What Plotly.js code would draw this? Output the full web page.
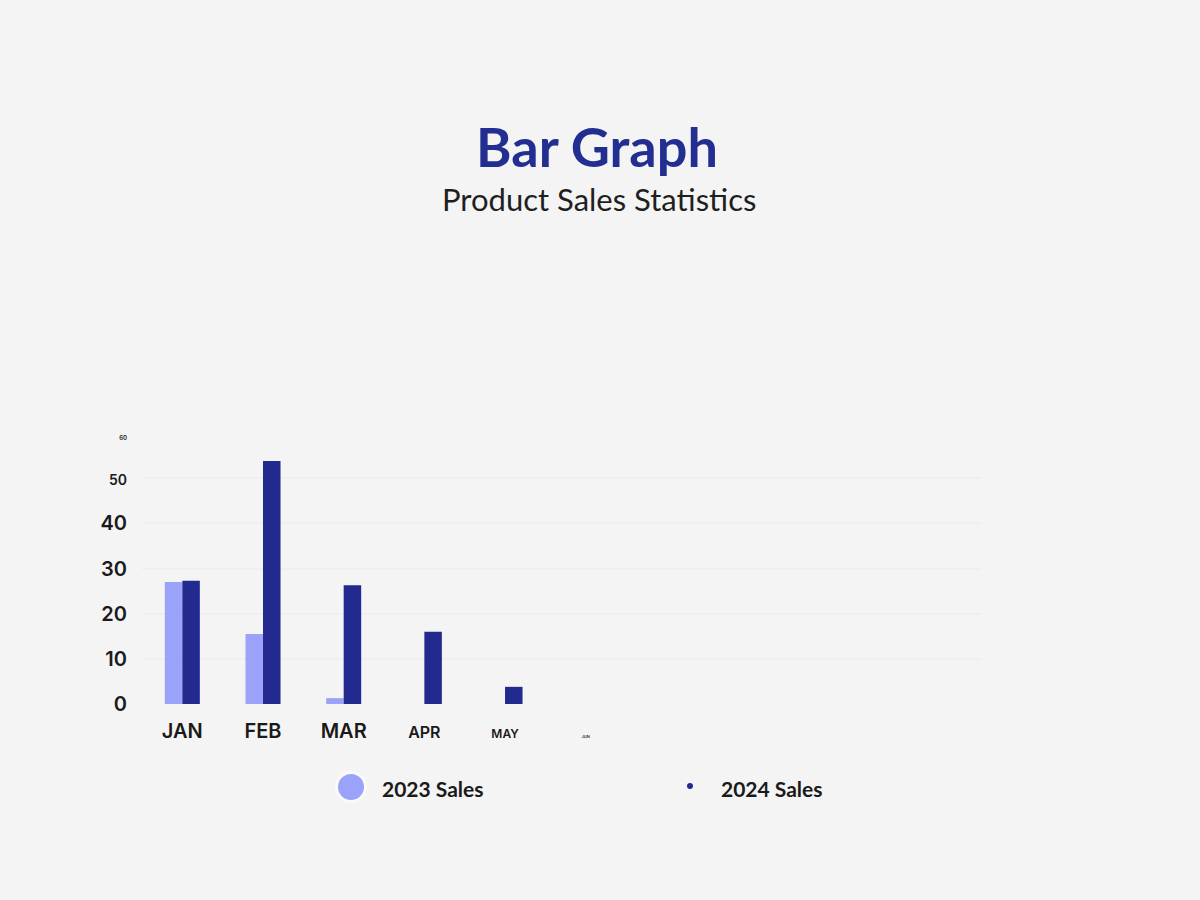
<!DOCTYPE html>
<html>
<head>
<meta charset="utf-8">
<script src="https://cdn.plot.ly/plotly-3.0.1.min.js"></script>
<style>
  html, body { margin: 0; padding: 0; background: #f4f4f4; }
  #chart { width: 1200px; height: 900px; }
</style>
</head>
<body>
<div id="chart"></div>
<script>
// ---- data ----
const months = ["JAN", "FEB", "MAR", "APR", "MAY", "JUN"];
const sales2023 = [27, 15.5, 1.3, 0, 0, 0];
const sales2024 = [27.3, 53.8, 26.3, 16, 3.8, 0];
const seriesNames = ["2023 Sales", "2024 Sales"];
const yTickValues = [0, 10, 20, 30, 40, 50, 60];
const yTickLabels = ["0", "10", "20", "30", "40", "50", "60"];
const titleText = "Bar Graph";
const subtitleText = "Product Sales Statistics";

// ---- styles (frame of an animation: label sizes vary) ----
const xLabelSizes = [20, 20, 20, 16, 12, 4];
const yLabelSizes = [20, 20, 20, 20, 20, 14, 6];
const lightColor = "#9aa2fa";
const darkColor = "#222a8f";

const sized = (labels, sizes) => labels.map((t, i) =>
  `<span style="font-size:${sizes[i]}px;fill:#1a1a1a">${t}</span>`);

const traces = [
  { type: "bar", name: seriesNames[0], x: months, y: sales2023,
    marker: { color: lightColor }, showlegend: false, hoverinfo: "x+y+name" },
  { type: "bar", name: seriesNames[1], x: months, y: sales2024,
    marker: { color: darkColor }, showlegend: false, hoverinfo: "x+y+name" }
];

const L = 142, R = 219, T = 433, B = 196;
const W = 1200 - L - R, H = 900 - T - B;
const px = v => (v - L) / W;
const py = v => (900 - B - v) / H;

const layout = {
  width: 1200, height: 900,
  paper_bgcolor: "#f4f4f4", plot_bgcolor: "#f4f4f4",
  margin: { l: L, r: R, t: T, b: B, pad: 0 },
  barmode: "group", bargap: 0.566, bargroupgap: 0,
  showlegend: false,
  font: { family: "Inter, 'Open Sans', sans-serif", color: "#1a1a1a" },
  title: {
    text: titleText,
    font: { family: "Lato", size: 54, weight: 700, color: "#232e91" },
    x: 597 / 1200, xanchor: "center", xref: "container",
    y: 1 - 148 / 900, yanchor: "middle", yref: "container"
  },
  xaxis: {
    type: "category",
    categoryorder: "array", categoryarray: months,
    range: [-0.5, 9.9],
    tickmode: "array", tickvals: months, ticktext: sized(months, xLabelSizes),
    tickfont: { family: "Inter", size: 20, weight: 600, color: "#1a1a1a" },
    showgrid: false, zeroline: false, showline: false, ticks: "",
    ticklabelstandoff: 13
  },
  yaxis: {
    range: [0, 60],
    tickmode: "array", tickvals: yTickValues, ticktext: sized(yTickLabels, yLabelSizes),
    tickfont: { family: "Inter", size: 20, weight: 600, color: "#1a1a1a" },
    showgrid: true, gridcolor: "#efefef", gridwidth: 2,
    zeroline: false, showline: false, ticks: "",
    ticklabelstandoff: 14
  },
  annotations: [
    { text: subtitleText, xref: "paper", yref: "paper", x: px(599), y: py(199),
      xanchor: "center", yanchor: "middle", showarrow: false,
      font: { family: "Lato", size: 31, color: "#1f1f1f" } },
    { text: "<b>" + seriesNames[0] + "</b>", xref: "paper", yref: "paper",
      x: px(380), y: py(788), xanchor: "left", yanchor: "middle", showarrow: false,
      font: { family: "Lato", size: 21, color: "#1a1a1a" } },
    { text: "<b>" + seriesNames[1] + "</b>", xref: "paper", yref: "paper",
      x: px(719), y: py(788), xanchor: "left", yanchor: "middle", showarrow: false,
      font: { family: "Lato", size: 21, color: "#1a1a1a" } }
  ],
  shapes: [
    { type: "circle", xref: "paper", yref: "paper", xsizemode: "pixel", ysizemode: "pixel",
      xanchor: px(351), yanchor: py(787), x0: -16, x1: 16, y0: -16, y1: 16,
      fillcolor: "#fafafa", line: { width: 0 } },
    { type: "circle", xref: "paper", yref: "paper", xsizemode: "pixel", ysizemode: "pixel",
      xanchor: px(351), yanchor: py(787), x0: -13, x1: 13, y0: -13, y1: 13,
      fillcolor: lightColor, line: { width: 0 } },
    { type: "circle", xref: "paper", yref: "paper", xsizemode: "pixel", ysizemode: "pixel",
      xanchor: px(690), yanchor: py(786), x0: -3, x1: 3, y0: -3, y1: 3,
      fillcolor: darkColor, line: { width: 0 } }
  ]
};

Plotly.newPlot("chart", traces, layout, { displayModeBar: false, responsive: false });
</script>
</body>
</html>
